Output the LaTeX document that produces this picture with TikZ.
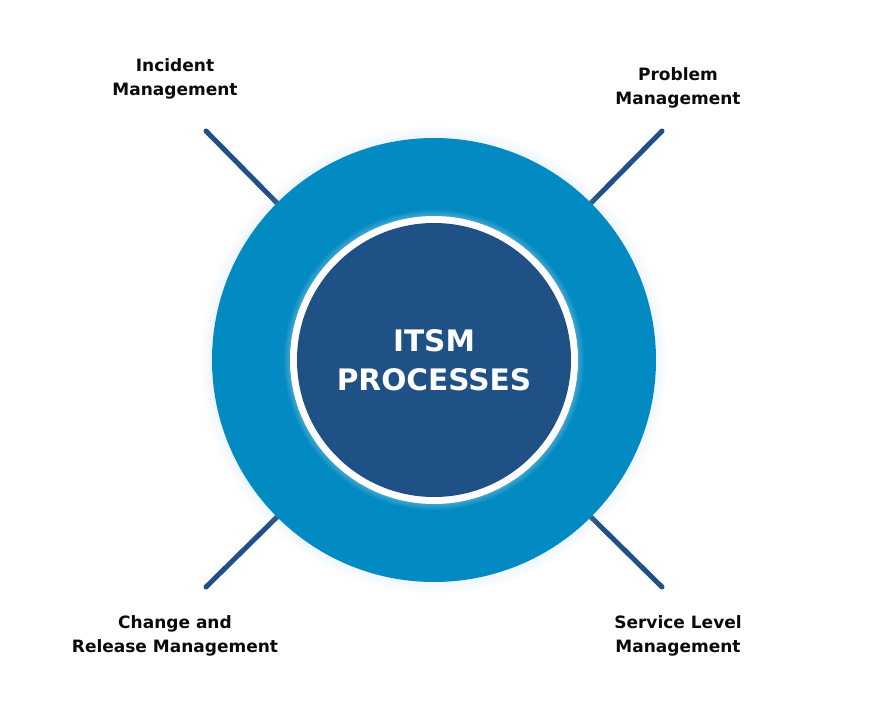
\documentclass[tikz,border=0pt]{standalone}
\usepackage{fontspec}
\setmainfont{DejaVu Sans}
\usetikzlibrary{backgrounds}
\definecolor{ringblue}{RGB}{2,138,194}
\definecolor{coreblue}{RGB}{31,80,134}
\definecolor{spokeblue}{RGB}{33,80,134}
\definecolor{labelblack}{RGB}{10,10,10}
\definecolor{glowblue}{RGB}{150,200,230}
\begin{document}
\begin{tikzpicture}[x=1pt, y=1pt,
  spoke/.style={draw=spokeblue, line width=5pt, line cap=round},
  lbl/.style={align=center, inner sep=0pt, text=labelblack, font=\fontsize{17}{24}\selectfont\bfseries}]
\useasboundingbox (0,0) rectangle (869,-719);
% rings
\node[circle, fill=ringblue, minimum size=444pt, inner sep=0pt] (ring) at (434,-360){};
\foreach \g in {1,...,5}
  \fill[white, opacity=0.05] (ring.center) circle (144+\g*1.2);
\node[circle, fill=white, minimum size=288pt, inner sep=0pt] (gap) at (ring.center){};
\node[circle, fill=coreblue, minimum size=274pt, inner sep=0pt, text=white, align=center,
  font=\fontsize{29.6}{39}\selectfont\bfseries] (core) at (ring.center){ITSM\\PROCESSES};
% glow and spokes
\begin{scope}[on background layer]
\coordinate (tlEnd) at (206,-131);
\coordinate (trEnd) at (662,-131);
\coordinate (blEnd) at (206,-587);
\coordinate (brEnd) at (662,-587);
\draw[spoke] (tlEnd) -- (ring.135);
\draw[spoke] (trEnd) -- (ring.45);
\draw[spoke] (blEnd) -- (ring.225);
\draw[spoke] (brEnd) -- (ring.315);
\foreach \g in {1,...,8}
  \fill[glowblue, opacity=0.02] (ring.center) circle (222+\g*1.5);
\end{scope}
% labels
\node[lbl] (incident) at (175,-79){Incident\\Management};
\node[lbl] (problem) at (678,-88){Problem\\Management};
\node[lbl] (change) at (175,-636){Change and\\Release Management};
\node[lbl] (service) at (678,-636){Service Level\\Management};
\end{tikzpicture}
\end{document}
